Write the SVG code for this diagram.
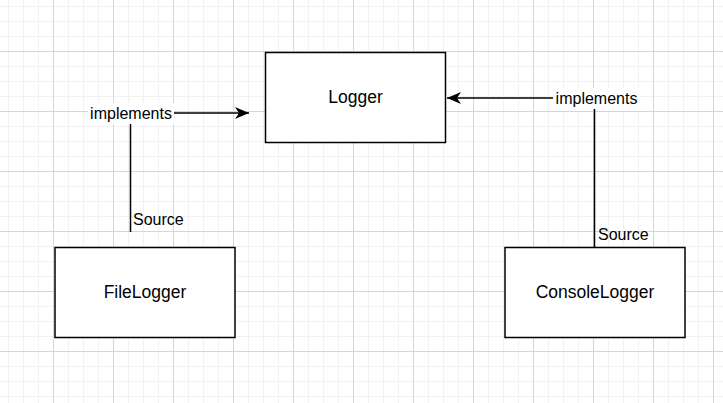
<svg xmlns="http://www.w3.org/2000/svg" width="723" height="403" viewBox="0 0 723 403">
  <defs>
    <pattern id="minor" patternUnits="userSpaceOnUse" x="8" y="6" width="15" height="15">
      <path d="M0.5 0V15M0 0.5H15" stroke="#f2f2f2" stroke-width="1" fill="none"/>
    </pattern>
    <pattern id="major" patternUnits="userSpaceOnUse" x="53" y="51" width="60" height="60">
      <path d="M0.5 0V60M0 0.5H60" stroke="#d6d6d6" stroke-width="1" fill="none"/>
    </pattern>
    <marker id="arrow" viewBox="0 0 14 12" refX="14" refY="6" markerWidth="14" markerHeight="12" markerUnits="userSpaceOnUse" orient="auto">
      <path d="M0 0L14 6L0 12L4 6Z" fill="#000"/>
    </marker>
    <style>
      .box { fill: #fff; stroke: #000; stroke-width: 1.5; }
      .node { font-family: "Liberation Sans", Arial, sans-serif; font-size: 17.5px; fill: #000; text-anchor: middle; }
      .lbl { font-family: "Liberation Sans", Arial, sans-serif; font-size: 16px; fill: #000; }
      .edge { fill: none; stroke: #000; stroke-width: 1.5; }
      .lblbg { fill: #fff; }
    </style>
  </defs>
  <rect width="723" height="403" fill="#fff"/>
  <rect width="723" height="403" fill="url(#minor)"/>
  <rect width="723" height="403" fill="url(#major)"/>

  <g id="connectors">
    <g id="edge-filelogger-logger">
      <path class="edge" d="M130.5 232V113H249" marker-end="url(#arrow)"/>
      <rect class="lblbg" x="88" y="103" width="86" height="21"/>
      <text class="lbl" x="131" y="118.5" text-anchor="middle">implements</text>
      <text class="lbl" x="133" y="225">Source</text>
    </g>
    <g id="edge-consolelogger-logger">
      <path class="edge" d="M594.5 247V98H447" marker-end="url(#arrow)"/>
      <rect class="lblbg" x="553" y="88" width="87" height="21"/>
      <text class="lbl" x="596.5" y="103.5" text-anchor="middle">implements</text>
      <text class="lbl" x="598" y="240">Source</text>
    </g>
  </g>

  <g id="logger">
    <rect class="box" x="265.5" y="52.5" width="180" height="90"/>
    <text class="node" x="355.5" y="103">Logger</text>
  </g>
  <g id="filelogger">
    <rect class="box" x="55" y="247.5" width="180" height="90"/>
    <text class="node" x="145" y="297.5">FileLogger</text>
  </g>
  <g id="consolelogger">
    <rect class="box" x="505" y="247.5" width="180" height="90"/>
    <text class="node" x="595" y="297.5">ConsoleLogger</text>
  </g>
</svg>
